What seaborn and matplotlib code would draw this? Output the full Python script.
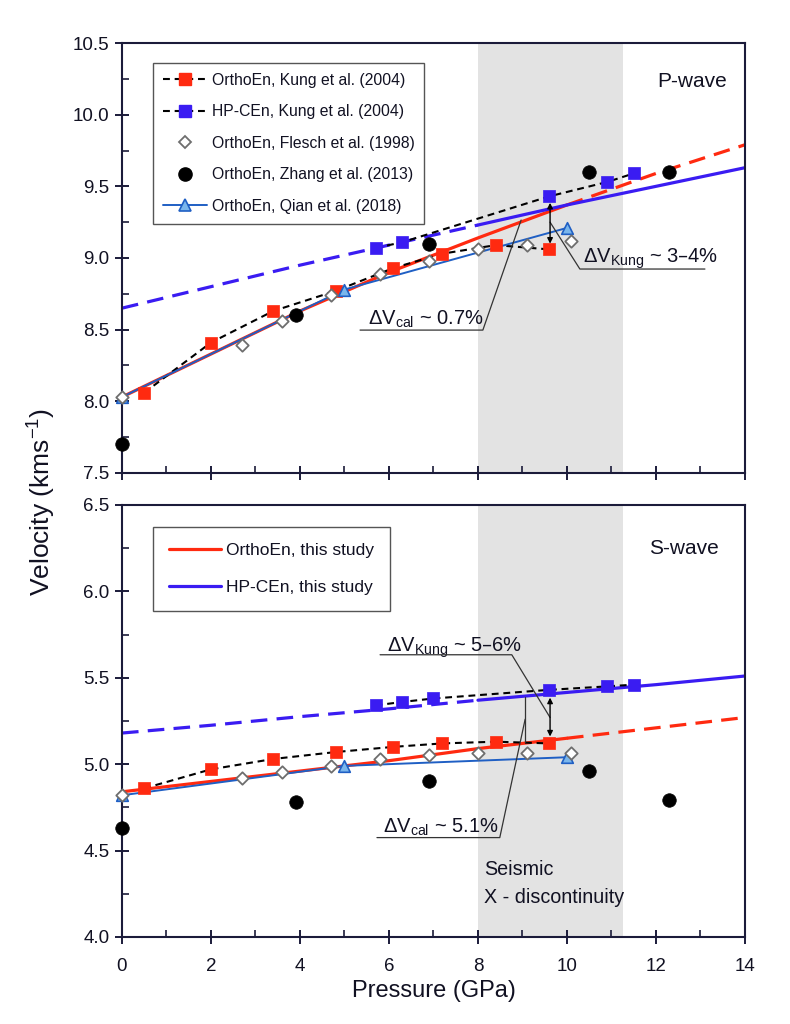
import numpy as np
import pandas as pd
import matplotlib
matplotlib.use("Agg")
import matplotlib.pyplot as plt
import seaborn as sns
from matplotlib.lines import Line2D
from matplotlib.ticker import MultipleLocator, FormatStrFormatter

# ---------------- data ----------------
# Kung et al. (2004) OrthoEn
kung_ortho_x = [0.5, 2.0, 3.4, 4.8, 6.1, 7.2, 8.4, 9.6]
kung_ortho_P = [8.06, 8.41, 8.63, 8.77, 8.93, 9.03, 9.09, 9.06]
kung_ortho_S = [4.86, 4.97, 5.03, 5.07, 5.10, 5.12, 5.13, 5.12]
# Kung et al. (2004) HP-CEn
kung_hp_P_x = [5.7, 6.3, 9.6, 10.9, 11.5]
kung_hp_P = [9.07, 9.11, 9.43, 9.53, 9.59]
kung_hp_S_x = [5.7, 6.3, 7.0, 9.6, 10.9, 11.5]
kung_hp_S = [5.34, 5.36, 5.38, 5.43, 5.45, 5.46]
# Flesch et al. (1998)
flesch_x = [0.0, 2.7, 3.6, 4.7, 5.8, 6.9, 8.0, 9.1, 10.1]
flesch_P = [8.03, 8.39, 8.56, 8.74, 8.89, 8.98, 9.06, 9.09, 9.12]
flesch_S = [4.82, 4.92, 4.955, 4.99, 5.03, 5.055, 5.065, 5.065, 5.065]
# Zhang et al. (2013)
zhang_x = [0.0, 3.9, 6.9, 10.5, 12.3]
zhang_P = [7.70, 8.60, 9.10, 9.60, 9.60]
zhang_S = [4.63, 4.78, 4.90, 4.96, 4.79]
# Qian et al. (2018)
qian_x = [0.0, 5.0, 10.0]
qian_P = [8.03, 8.78, 9.21]
qian_S = [4.82, 4.99, 5.04]
# This study
fit_x = [0, 2, 4, 6, 8, 10, 12, 14]
ortho_fit_P = [8.03, 8.33, 8.63, 8.90, 9.14, 9.37, 9.59, 9.79]
hp_fit_P = [8.65, 8.80, 8.95, 9.09, 9.23, 9.37, 9.50, 9.63]
ortho_fit_S = [4.84, 4.90, 4.96, 5.02, 5.09, 5.15, 5.21, 5.27]
hp_fit_S = [5.18, 5.225, 5.275, 5.32, 5.37, 5.415, 5.46, 5.51]

x_ticks = [0, 2, 4, 6, 8, 10, 12, 14]
seismic_zone = (8.0, 11.25)

# ---------------- style ----------------
sns.set_theme(style="white")
plt.rcParams["font.family"] = ["Liberation Sans", "DejaVu Sans"]
plt.rcParams["mathtext.default"] = "regular"

SPINE = "#1b1b3a"
TXT = "#111122"
RED = "#ff2a10"
BLUE = "#3a1cf2"
QBLUE = "#1f5fc4"
QFACE = "#7ab6ec"
GREY = "#e3e3e3"

fig = plt.figure(figsize=(7.9, 10.24), dpi=100)
axP = fig.add_axes([0.1544, 0.5381, 0.7886, 0.4199])
axS = fig.add_axes([0.1544, 0.0850, 0.7886, 0.4219])

study_dash = (0, (5.2, 2.9))
kung_dash = (0, (3.3, 2.3))


def draw_panel(ax, ortho_fit, hp_fit, k_o, k_hp_x, k_hp, fl, zh, qi):
    ax.axvspan(*seismic_zone, color=GREY, zorder=0, lw=0)
    # this study curves
    sns.lineplot(x=fit_x[:6], y=ortho_fit[:6], ax=ax, color=RED, lw=2.3,
                 estimator=None, zorder=2)
    sns.lineplot(x=fit_x[5:], y=ortho_fit[5:], ax=ax, color=RED, lw=2.3,
                 linestyle=study_dash, estimator=None, zorder=2)
    sns.lineplot(x=fit_x[:5], y=hp_fit[:5], ax=ax, color=BLUE, lw=2.3,
                 linestyle=study_dash, estimator=None, zorder=2)
    sns.lineplot(x=fit_x[4:], y=hp_fit[4:], ax=ax, color=BLUE, lw=2.3,
                 estimator=None, zorder=2)
    # Kung connecting dashed lines
    sns.lineplot(x=kung_ortho_x, y=k_o, ax=ax, color="black", lw=1.5,
                 linestyle=kung_dash, estimator=None, zorder=3)
    sns.lineplot(x=k_hp_x, y=k_hp, ax=ax, color="black", lw=1.5,
                 linestyle=kung_dash, estimator=None, zorder=3)
    # Qian line
    sns.lineplot(x=qian_x, y=qi, ax=ax, color=QBLUE, lw=1.4,
                 estimator=None, zorder=3)
    # markers
    sns.scatterplot(x=kung_ortho_x, y=k_o, ax=ax, marker="s", s=85,
                    color=RED, edgecolor=RED, linewidth=0.5, zorder=5)
    sns.scatterplot(x=k_hp_x, y=k_hp, ax=ax, marker="s", s=85,
                    color=BLUE, edgecolor=BLUE, linewidth=0.5, zorder=5)
    sns.scatterplot(x=flesch_x, y=fl, ax=ax, marker="D", s=40,
                    color="white", edgecolor="#6e6e6e", linewidth=1.3,
                    zorder=6, clip_on=False)
    sns.scatterplot(x=zhang_x, y=zh, ax=ax, marker="o", s=95,
                    color="black", edgecolor="black", linewidth=0.5,
                    zorder=5, clip_on=False)
    sns.scatterplot(x=qian_x, y=qi, ax=ax, marker="^", s=70,
                    color=QFACE, edgecolor=QBLUE, linewidth=1.2,
                    zorder=5, clip_on=False)


draw_panel(axP, ortho_fit_P, hp_fit_P, kung_ortho_P, kung_hp_P_x, kung_hp_P,
           flesch_P, zhang_P, qian_P)
draw_panel(axS, ortho_fit_S, hp_fit_S, kung_ortho_S, kung_hp_S_x, kung_hp_S,
           flesch_S, zhang_S, qian_S)

for ax, ylim in ((axP, (7.5, 10.5)), (axS, (4.0, 6.5))):
    ax.set_xlim(0, 14)
    ax.set_ylim(*ylim)
    ax.set_xticks(x_ticks)
    ax.xaxis.set_minor_locator(MultipleLocator(1))
    ax.yaxis.set_major_locator(MultipleLocator(0.5))
    ax.yaxis.set_minor_locator(MultipleLocator(0.25))
    ax.yaxis.set_major_formatter(FormatStrFormatter("%.1f"))
    ax.set_xlabel("")
    ax.set_ylabel("")
    for sp in ax.spines.values():
        sp.set_color(SPINE)
        sp.set_linewidth(1.5)
        sp.set_visible(True)
    ax.tick_params(which="major", direction="inout", length=10, width=1.4,
                   color=SPINE, labelsize=13.5, labelcolor=TXT,
                   left=True, bottom=True, right=False, top=False)
    ax.tick_params(axis="y", which="major", pad=4)
    ax.tick_params(axis="x", which="major", pad=10)
    ax.tick_params(which="minor", direction="in", length=5, width=1.2,
                   color=SPINE, left=True, bottom=True, right=False, top=False)

axP.tick_params(labelbottom=False)
axS.set_xlabel("Pressure (GPa)", fontsize=17, color=TXT, labelpad=4)
fig.text(0.053, 0.51, "Velocity (kms$^{-1}$)", rotation=90, fontsize=19,
         color=TXT, ha="center", va="center")

# panel labels
axP.text(13.6, 10.23, "P-wave", ha="right", va="center", fontsize=15, color=TXT)
axS.text(13.42, 6.25, "S-wave", ha="right", va="center", fontsize=15, color=TXT)
axS.text(8.13, 4.39, "Seismic", ha="left", va="center", fontsize=14.2, color=TXT)
axS.text(8.13, 4.23, "X - discontinuity", ha="left", va="center", fontsize=14.2,
         color=TXT)

LC = "#333333"
# ---- P annotations ----
axP.text(5.53, 8.532, r"ΔV$_{\mathregular{cal}}$ ~ 0.7%", fontsize=14.5,
         color=TXT, va="baseline", ha="left")
axP.plot([5.35, 8.11, 8.97], [8.497, 8.497, 9.265], color=LC, lw=0.9, zorder=7)
axP.text(10.36, 8.965, r"ΔV$_{\mathregular{Kung}}$ ~ 3–4%", fontsize=14.5,
         color=TXT, va="baseline", ha="left")
axP.plot([13.1, 10.29, 9.62], [8.923, 8.923, 9.25], color=LC, lw=0.9, zorder=7)
axP.annotate("", xy=(9.62, 9.385), xytext=(9.62, 9.10),
             arrowprops=dict(arrowstyle="<|-|>", color="black", lw=1.0,
                             mutation_scale=8, shrinkA=0, shrinkB=0), zorder=7)

# ---- S annotations ----
axS.text(5.96, 5.652, r"ΔV$_{\mathregular{Kung}}$ ~ 5–6%", fontsize=14.5,
         color=TXT, va="baseline", ha="left")
axS.plot([5.8, 8.76, 9.62], [5.633, 5.633, 5.27], color=LC, lw=0.9, zorder=7)
axS.text(5.87, 4.604, r"ΔV$_{\mathregular{cal}}$ ~ 5.1%", fontsize=14.5,
         color=TXT, va="baseline", ha="left")
axS.plot([5.73, 8.49, 9.06], [4.575, 4.575, 5.26], color=LC, lw=0.9, zorder=7)
axS.plot([9.06, 9.06], [5.13, 5.39], color=LC, lw=0.9, zorder=7)
axS.annotate("", xy=(9.62, 5.385), xytext=(9.62, 5.16),
             arrowprops=dict(arrowstyle="<|-|>", color="black", lw=1.0,
                             mutation_scale=8, shrinkA=0, shrinkB=0), zorder=7)

# ---- legends ----
h_top = [
    Line2D([], [], color="black", lw=1.5, linestyle=kung_dash, marker="s",
           ms=9, mfc=RED, mec=RED),
    Line2D([], [], color="black", lw=1.5, linestyle=kung_dash, marker="s",
           ms=9, mfc=BLUE, mec=BLUE),
    Line2D([], [], ls="none", marker="D", ms=6.3, mfc="white", mec="#6e6e6e",
           mew=1.3),
    Line2D([], [], ls="none", marker="o", ms=9.5, mfc="black", mec="black"),
    Line2D([], [], color=QBLUE, lw=1.4, marker="^", ms=8, mfc=QFACE,
           mec=QBLUE, mew=1.2),
]
l_top = ["OrthoEn, Kung et al. (2004)", "HP-CEn, Kung et al. (2004)",
         "OrthoEn, Flesch et al. (1998)", "OrthoEn, Zhang et al. (2013)",
         "OrthoEn, Qian et al. (2018)"]
legP = axP.legend(h_top, l_top, loc="upper left", bbox_to_anchor=(0.05, 0.953),
                  borderaxespad=0, fontsize=11.3, frameon=True, fancybox=False,
                  edgecolor="#555555", framealpha=1, handlelength=2.8,
                  handletextpad=0.32, labelspacing=1.05, borderpad=0.62,
                  numpoints=1)
legP.get_frame().set_linewidth(1.0)
for t in legP.get_texts():
    t.set_color(TXT)

h_bot = [Line2D([], [], color=RED, lw=2.3), Line2D([], [], color=BLUE, lw=2.3)]
l_bot = ["OrthoEn, this study", "HP-CEn, this study"]
legS = axS.legend(h_bot, l_bot, loc="upper left", bbox_to_anchor=(0.05, 0.949),
                  borderaxespad=0, fontsize=12.5, frameon=True, fancybox=False,
                  edgecolor="#555555", framealpha=1, handlelength=3.0,
                  handletextpad=0.3, labelspacing=1.3, borderpad=0.9)
legS.get_frame().set_linewidth(1.0)
for t in legS.get_texts():
    t.set_color(TXT)

fig.savefig("out.png", dpi=100, facecolor="white")
